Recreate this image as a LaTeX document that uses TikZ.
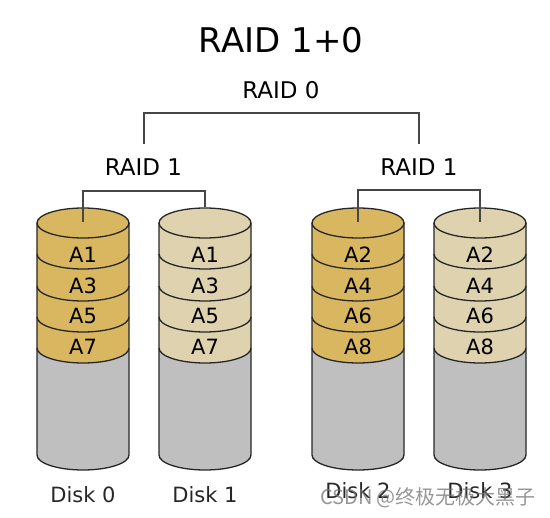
\documentclass[tikz,border=0pt]{standalone}
\usepackage{fontspec}
\setmainfont{DejaVu Sans}
\newfontfamily\cjkfont{Noto Sans CJK SC}
\usetikzlibrary{positioning}
\definecolor{DiskGold}{RGB}{217,183,96}
\definecolor{DiskTan}{RGB}{223,210,175}
\definecolor{DiskGray}{RGB}{191,191,191}
\definecolor{EdgeDark}{RGB}{38,38,38}
\definecolor{LinkGray}{RGB}{70,70,70}
\tikzset{
  edge/.style={draw=EdgeDark,line width=1.3pt},
  link/.style={draw=LinkGray,line width=1.4pt},
  titlelabel/.style={inner sep=0pt,font=\fontsize{34}{34}\selectfont},
  levellabel/.style={inner sep=0pt,font=\fontsize{23}{23}\selectfont},
  blocklabel/.style={inner sep=0pt,font=\fontsize{21}{21}\selectfont},
  disklabel/.style={inner sep=0pt,font=\fontsize{21}{21}\selectfont,text=black!85},
  marklabel/.style={inner sep=0pt,font=\cjkfont\fontsize{20}{20}\selectfont,
    text=black!55,opacity=0.75}
}

\begin{document}
\begin{tikzpicture}[x=1pt,y=-1pt]
  \useasboundingbox (0,0) rectangle (550,518);
  % disks
  \foreach \cx/\col/\first/\name/\n/\ly in
      {83/DiskGold/1/d0/0/495, 205/DiskTan/1/d1/1/495,
       358/DiskGold/2/d2/2/491, 480/DiskTan/2/d3/3/491} {
    \fill[DiskGray] (\cx-46,223) -- (\cx-46,455)
      arc[start angle=180,end angle=360,x radius=46pt,y radius=15pt] -- (\cx+46,223) -- cycle;
    \fill[\col] (\cx-46,223) -- (\cx-46,348)
      arc[start angle=180,end angle=360,x radius=46pt,y radius=15pt] -- (\cx+46,223) -- cycle;
    \foreach \y in {254,286,317,348}
      \draw[edge] (\cx-46,\y) arc[start angle=180,end angle=360,x radius=46pt,y radius=15pt];
    \draw[edge] (\cx-46,223) -- (\cx-46,455)
      arc[start angle=180,end angle=360,x radius=46pt,y radius=15pt] -- (\cx+46,223);
    \draw[edge,fill=\col] (\cx,223) ellipse[x radius=46pt,y radius=15pt];
    \coordinate (\name-top) at (\cx,222);
    \coordinate (\name-rim) at (\cx,207);
    \foreach \i/\y in {1/255,2/286,3/316,4/347} {
      \pgfmathtruncatemacro{\blk}{\first+2*(\i-1)}
      \node[blocklabel] (\name-b\i) at (\cx,\y) {A\blk};
    }
    \node[disklabel] (\name-lab) at (\cx,\ly) {Disk \n};
  }
  % labels
  \node[titlelabel] (title) at (281,40) {RAID 1+0};
  \node[levellabel] (raid0) at (281,90) {RAID 0};
  \node[levellabel] (raid1a) at (143.5,167) {RAID 1};
  \node[levellabel] (raid1b) at (419,167) {RAID 1};
  % brackets
  \coordinate (join0) at (281,113);
  \coordinate (tip1a) at (144,144);
  \coordinate (tip1b) at (419,144);
  \coordinate (join1a) at (144,191);
  \coordinate (join1b) at (419,190);
  \draw[link] (tip1a) |- (join0) -| (tip1b);
  \draw[link] (d0-top) |- (join1a) -| (d1-rim);
  \draw[link] (d2-top) |- (join1b) -| (d3-top);
  \node[marklabel] (mark) at (428,498) {CSDN @终极无极大黑子};
\end{tikzpicture}
\end{document}
